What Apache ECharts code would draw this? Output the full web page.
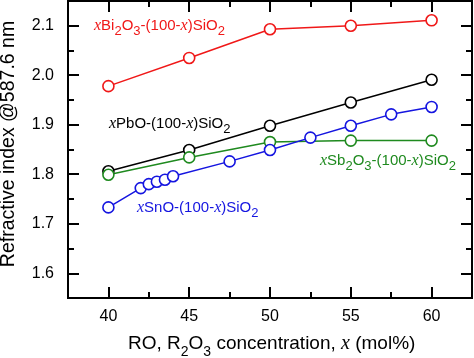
<!DOCTYPE html>
<html><head><meta charset="utf-8">
<script src="https://cdn.jsdelivr.net/npm/echarts@6/dist/echarts.min.js"></script>
<style>html,body{margin:0;padding:0;background:#fff}#c{width:474px;height:358px}</style>
</head><body><div id="c"></div>
<script>
// Data
const xBi = [40, 45, 50, 55, 60];
const nBi = [1.978, 2.035, 2.093, 2.100, 2.111];
const xPb = [40, 45, 50, 55, 60];
const nPb = [1.806, 1.849, 1.898, 1.945, 1.991];
const xSb = [40, 45, 50, 55, 60];
const nSb = [1.799, 1.834, 1.865, 1.868, 1.868];
const xSn = [40, 42, 42.5, 43, 43.5, 44, 47.5, 50, 52.5, 55, 57.5, 60];
const nSn = [1.733, 1.772, 1.780, 1.785, 1.789, 1.796, 1.826, 1.849, 1.874, 1.898, 1.921, 1.936];
const xMajor = [40, 45, 50, 55, 60];
const xMinor = [42.5, 47.5, 52.5, 57.5];
const yMajor = [1.6, 1.7, 1.8, 1.9, 2.0, 2.1];
const yMinor = [1.65, 1.75, 1.85, 1.95, 2.05];

const pair = (xs, ys) => xs.map((x, i) => [x, ys[i]]);
const chart = echarts.init(document.getElementById('c'), null, {renderer: 'canvas'});
const AX = '#000';
const FONT = 'Liberation Sans, Arial, sans-serif';
const SERIF = 'Liberation Serif, Times New Roman, serif';
const rich = (color, size, sub, drop) => ({
  n: {fontFamily: FONT, fontSize: size, fill: color, color: color, lineHeight: size + 2, verticalAlign: 'top'},
  i: {fontFamily: SERIF, fontStyle: 'italic', fontSize: size + 1, fill: color, color: color, lineHeight: size + 2, verticalAlign: 'top'},
  s: {fontFamily: FONT, fontSize: sub, fill: color, color: color, lineHeight: sub, verticalAlign: 'top', padding: [drop, 0, 0, 0]}
});
function xAx(pos, vals, len, labels) {
  return {
    type: 'value', min: 37.5, max: 62.5, position: pos,
    axisLine: {show: true, onZero: false, lineStyle: {color: AX, width: 2}},
    axisTick: {show: true, inside: true, length: len, customValues: vals, lineStyle: {color: AX, width: 2}},
    axisLabel: {show: labels, customValues: vals, fontFamily: FONT, fontSize: 16, color: '#000', margin: 11},
    splitLine: {show: false}
  };
}
function yAx(pos, vals, len, labels) {
  return {
    type: 'value', min: 1.55, max: 2.15, position: pos,
    axisLine: {show: true, onZero: false, lineStyle: {color: AX, width: 2}},
    axisTick: {show: true, inside: true, length: len, customValues: vals, lineStyle: {color: AX, width: 2}},
    axisLabel: {show: labels, customValues: vals, fontFamily: FONT, fontSize: 16, color: '#000', margin: 14,
      formatter: v => v.toFixed(1)},
    splitLine: {show: false}
  };
}
function ser(name, data, color) {
  return {
    type: 'line', name, data, xAxisIndex: 0, yAxisIndex: 0,
    symbol: 'circle', symbolSize: 11, showSymbol: true,
    lineStyle: {color, width: 1.5},
    itemStyle: {color: '#fff', borderColor: color, borderWidth: 1.6},
    emphasis: {disabled: true}, z: 3
  };
}
function label(text, x, y, color, size) {
  return {type: 'text', left: x, top: y, z: 10,
    style: {text, fill: color, font: size + 'px ' + FONT, rich: rich(color, size, 13, 7)}};
}
const RED = '#f01818', BLK = '#000000', GRN = '#1f8a1f', BLU = '#1515e0';
chart.setOption({
  animation: false,
  grid: {left: 68, right: 2, top: 1, bottom: 60, containLabel: false},
  xAxis: [xAx('bottom', xMajor, 11, true), xAx('bottom', xMinor, 6, false), xAx('top', xMajor, 11, false), xAx('top', xMinor, 6, false)],
  yAxis: [yAx('left', yMajor, 11, true), yAx('left', yMinor, 6, false), yAx('right', yMajor, 11, false), yAx('right', yMinor, 6, false)],
  series: [
    ser('Bi', pair(xBi, nBi), RED),
    ser('Pb', pair(xPb, nPb), BLK),
    ser('Sb', pair(xSb, nSb), GRN),
    ser('Sn', pair(xSn, nSn), BLU)
  ],
  graphic: [
    label('{i|x}{n|Bi}{s|2}{n|O}{s|3}{n|-(100-}{i|x}{n|)SiO}{s|2}', 94, 18, RED, 15),
    label('{i|x}{n|PbO-(100-}{i|x}{n|)SiO}{s|2}', 109, 116, BLK, 15),
    label('{i|x}{n|Sb}{s|2}{n|O}{s|3}{n|-(100-}{i|x}{n|)SiO}{s|2}', 320, 153, GRN, 15),
    label('{i|x}{n|SnO-(100-}{i|x}{n|)SiO}{s|2}', 137, 200, BLU, 15),
    {type: 'text', left: 128, top: 334, z: 10,
      style: {text: '{n|RO, R}{s|2}{n|O}{s|3}{n| concentration, }{i|x}{n| (mol%)}', fill: '#000', font: '19px ' + FONT, rich: rich('#000', 19, 14, 11)}},
    {type: 'text', x: 9, y: 144, rotation: Math.PI / 2, z: 10,
      style: {text: 'Refractive index @587.6 nm', fill: '#000', font: '19.5px ' + FONT, align: 'center', verticalAlign: 'middle'}}
  ]
});
</script></body></html>
